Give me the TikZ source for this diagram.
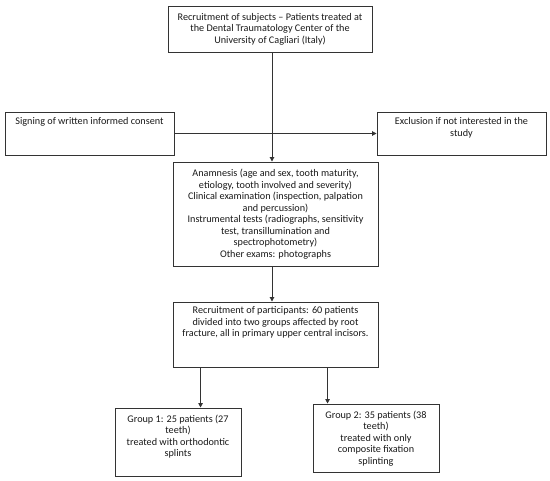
\documentclass[tikz,border=0pt]{standalone}
\usepackage{fontspec}
\setmainfont{Carlito}
\usetikzlibrary{arrows.meta}
\begin{document}
\begin{tikzpicture}[x=1pt,y=-1pt,
  box/.style={draw=black!80, line width=0.9pt, rectangle, inner sep=0pt},
  txt/.style={align=center, inner sep=0pt, font=\fontsize{10.2}{11.5}\selectfont, text=black!90},
  arr/.style={draw=black!80, line width=0.9pt, -{Triangle[width=4.5pt,length=4.5pt]}}]
\useasboundingbox (0,0) rectangle (550,481);
% boxes
\node[box, minimum width=204, minimum height=46] (top) at (270,29) {};
\node[box, minimum width=169, minimum height=43] (left) at (89.5,133.5) {};
\node[box, minimum width=169, minimum height=43] (right) at (461.5,133.5) {};
\node[box, minimum width=205, minimum height=104] (mid) at (275.5,214) {};
\node[box, minimum width=205, minimum height=65] (rec) at (275.5,334.5) {};
\node[box, minimum width=126, minimum height=68] (g1) at (178,442) {};
\node[box, minimum width=126, minimum height=68] (g2) at (376,438) {};
% texts
\node[txt] (toptxt) at (top.center) {Recruitment of subjects – Patients treated at\\the Dental Traumatology Center of the\\University of Cagliari (Italy)};
\node[txt, anchor=north] (lefttxt) at ([yshift=-6pt]left.north) {Signing of written informed consent};
\node[txt, anchor=north] (righttxt) at ([yshift=-6pt]right.north) {Exclusion if not interested in the\\study};
\node[txt] (midtxt) at (mid.center) {Anamnesis (age and sex, tooth maturity,\\etiology, tooth involved and severity)\\Clinical examination (inspection, palpation\\and percussion)\\Instrumental tests (radiographs, sensitivity\\test, transillumination and\\spectrophotometry)\\Other exams: photographs};
\node[txt, anchor=north] (rectxt) at ([yshift=-5pt]rec.north) {Recruitment of participants: 60 patients\\divided into two groups affected by root\\fracture, all in primary upper central incisors.};
\node[txt, anchor=north] (g1txt) at ([yshift=-7pt]g1.north) {Group 1: 25 patients (27\\teeth)\\treated with orthodontic\\splints};
\node[txt, anchor=north] (g2txt) at ([yshift=-7pt]g2.north) {Group 2: 35 patients (38\\teeth)\\treated with only\\composite fixation\\splinting};
% connectors
\draw[arr] ([xshift=2pt]top.south) -- ([xshift=2pt]top.south |- mid.north);
\draw[arr] (left.east) -- (right.west);
\draw[arr] ([xshift=-3.5pt]mid.south) -- ([xshift=-3.5pt]mid.south |- rec.north);
\draw[arr] ([xshift=28pt]rec.south west) -- ([xshift=28pt]rec.south west |- g1.north);
\draw[arr] ([xshift=155pt]rec.south west) -- ([xshift=155pt]rec.south west |- g2.north);
\end{tikzpicture}
\end{document}
